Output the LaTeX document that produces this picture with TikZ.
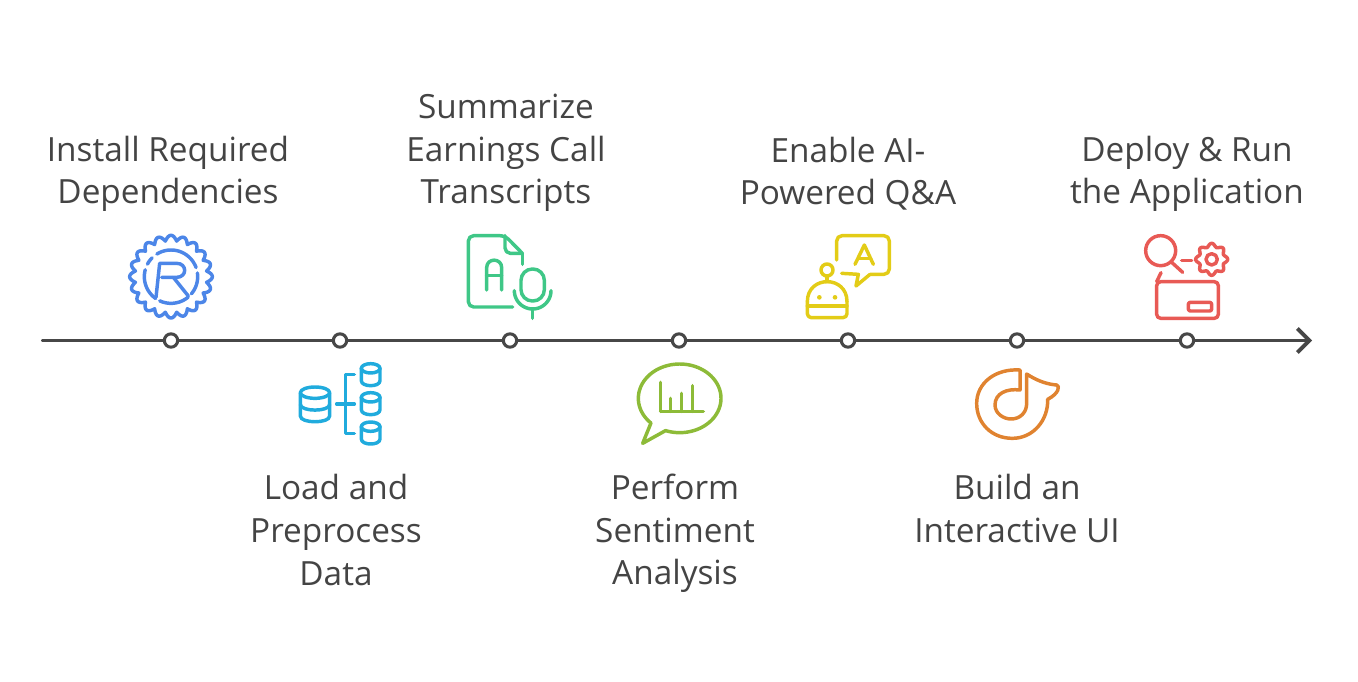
\documentclass[tikz,border=0pt]{standalone}
\usepackage{fontspec}
\setmainfont{Open Sans}
\usetikzlibrary{arrows.meta}
\definecolor{axisgray}{HTML}{474747}
\definecolor{textgray}{HTML}{444444}
\definecolor{iconblue}{HTML}{4C86E8}
\definecolor{iconcyan}{HTML}{20ABDD}
\definecolor{icongreen}{HTML}{3FC787}
\definecolor{iconlime}{HTML}{8DBB38}
\definecolor{iconyellow}{HTML}{E3CC17}
\definecolor{iconorange}{HTML}{E08330}
\definecolor{iconred}{HTML}{E85A55}
\tikzset{
  steptext/.style={text=textgray, align=center, font=\fontsize{25pt}{31.9pt}\selectfont},
  stepdot/.style={draw=axisgray, circle, fill=white, line width=2.3pt, inner sep=0pt, minimum size=10pt},
  iconline/.style={line width=2.6pt, line cap=round, line join=round},
  zoomed/.style={x=0.25pt, y=-0.25pt},
}
\begin{document}
\begin{tikzpicture}[x=0.75pt, y=-0.75pt]
    \useasboundingbox (0, 0) rectangle (1358, 681);

    % Draw the axis
    \coordinate (axisstart) at (43, 340.5);
    \coordinate (axisend) at (1312, 340.5);
    \draw[axisgray, line width=2.9pt, line cap=round, -{Straight Barb[length=9pt, width=18pt, line width=2.9pt]}] (axisstart) -- (axisend);

    % Draw the dots
    \node[stepdot] (dot1) at (171, 340.5) {};
    \node[stepdot] (dot2) at (340, 340.5) {};
    \node[stepdot] (dot3) at (510, 340.5) {};
    \node[stepdot] (dot4) at (679, 340.5) {};
    \node[stepdot] (dot5) at (848, 340.5) {};
    \node[stepdot] (dot6) at (1017, 340.5) {};
    \node[stepdot] (dot7) at (1187, 340.5) {};

    % Draw the labels
    \node[steptext] (install) at (168, 174) {Install Required\\Dependencies};
    \node[steptext] (load) at (336, 530) {Load and\\Preprocess\\Data};
    \node[steptext] (summarize) at (506, 153) {Summarize\\Earnings Call\\Transcripts};
    \node[steptext] (perform) at (675, 533.5) {Perform\\Sentiment\\Analysis};
    \node[steptext] (enable) at (848, 173.5) {Enable AI-\\Powered Q\&A};
    \node[steptext] (build) at (1017, 508.5) {Build an\\Interactive UI};
    \node[steptext] (deploy) at (1187, 174) {Deploy \& Run\\the Application};

    % Draw the gear icon
    \begin{scope}[shift={(110, 220)}, zoomed, iconline, draw=iconblue]
    \draw plot[domain=0:360, samples=361, smooth] ({183+(108+16*abs(cos(10*\x)))*cos(\x)}, {170+(108+16*abs(cos(10*\x)))*sin(\x)});
    \draw plot[domain=-122:-20, samples=30, smooth] ({183+80*cos(\x)}, {170+80*sin(\x)});
    \draw plot[domain=-8:40, samples=20, smooth] ({183+80*cos(\x)}, {170+80*sin(\x)});
    \draw plot[domain=50:115, samples=20, smooth] ({183+80*cos(\x)}, {170+80*sin(\x)});
    \draw plot[domain=125:195, samples=20, smooth] ({183+80*cos(\x)}, {170+80*sin(\x)});
    \draw plot[domain=208:225, samples=8, smooth] ({183+80*cos(\x)}, {170+80*sin(\x)});
    \draw (138, 232) -- (149, 130) -- (200, 130) .. controls (232, 130) and (232, 172) .. (200, 172) -- (155, 172);
    \draw (190, 172) -- (235, 228);
    \end{scope}

    % Draw the database icon
    \begin{scope}[shift={(110, 220)}, zoomed, iconline, draw=iconcyan]
    \draw (615, 518) ellipse (44 and 17);
    \draw (571, 518) -- (571, 588) .. controls (571, 611) and (659, 611) .. (659, 588) -- (659, 518);
    \draw (571, 553) .. controls (571, 576) and (659, 576) .. (659, 553);
    \draw (782, 445) ellipse (28 and 14);
    \draw (754, 445) -- (754, 482) .. controls (754, 502) and (810, 502) .. (810, 482) -- (810, 445);
    \draw (782, 532) ellipse (28 and 14);
    \draw (754, 532) -- (754, 569) .. controls (754, 589) and (810, 589) .. (810, 569) -- (810, 532);
    \draw (782, 620) ellipse (28 and 14);
    \draw (754, 620) -- (754, 657) .. controls (754, 677) and (810, 677) .. (810, 657) -- (810, 620);
    \draw (733, 463) -- (707, 463) -- (707, 640) -- (733, 640);
    \draw (680, 552) -- (733, 552);
    \end{scope}

    % Draw the transcript icon
    \begin{scope}[shift={(450, 220)}, zoomed, iconline, draw=icongreen]
    \draw[rounded corners=4pt] (188, 261) -- (55, 261) -- (55, 47) -- (165, 47) -- (217, 100);
    \draw (217, 100) -- (217, 133);
    \draw[rounded corners=4pt] (165, 47) -- (165, 100) -- (217, 100);
    \draw (110, 210) -- (110, 143) .. controls (110, 113) and (155, 113) .. (155, 143) -- (155, 210);
    \draw (110, 167) -- (155, 167);
    \draw[rounded corners=8.5pt] (213, 147) rectangle (283, 243);
    \draw plot[domain=0:180, samples=30, smooth] ({248+55*cos(\x)}, {212+55*sin(\x)});
    \draw (248, 267) -- (248, 295);
    \end{scope}

    % Draw the sentiment icon
    \begin{scope}[shift={(450, 220)}, zoomed, iconline, draw=iconlime]
    \draw plot[domain=134:470, samples=90, smooth] ({689+124*cos(\x)}, {535+103*sin(\x)}) -- (578, 670) -- cycle;
    \draw (632, 574) -- (760, 574);
    \draw (632, 487) -- (632, 574);
    \draw (662, 535) -- (662, 574);
    \draw (695, 520) -- (695, 574);
    \draw (727, 497) -- (727, 574);
    \end{scope}

    % Draw the robot icon
    \begin{scope}[shift={(790, 220)}, zoomed, iconline, draw=iconyellow]
    \draw[rounded corners=4pt] (140, 120) -- (140, 47) -- (298, 47) -- (298, 163) -- (240, 163);
    \draw (240, 163) -- (198, 198) -- (205, 163) -- (155, 160);
    \draw (195, 133) -- (223, 75) -- (250, 133);
    \draw (205, 115) -- (242, 115);
    \draw (111, 150) circle (18);
    \draw (111, 168) -- (111, 185);
    \draw[rounded corners=3pt] (52, 245) -- (52, 293) -- (171, 293) -- (171, 245);
    \draw (52, 245) .. controls (52, 165) and (171, 165) .. (171, 245);
    \draw (52, 258) -- (171, 258);
    \fill[iconyellow] (88, 232) circle (7);
    \fill[iconyellow] (135, 232) circle (7);
    \end{scope}

    % Draw the note icon
    \begin{scope}[shift={(790, 220)}, zoomed, iconline, draw=iconorange]
    \draw (690, 450) -- (690, 510) .. controls (650, 505) and (615, 520) .. (615, 555) .. controls (615, 580) and (640, 597) .. (663, 597) .. controls (690, 597) and (710, 578) .. (710, 550) -- (710, 462) .. controls (745, 485) and (775, 493) .. (800, 495) .. controls (810, 497) and (808, 520) .. (773, 538) .. controls (775, 600) and (730, 655) .. (667, 655) .. controls (605, 655) and (560, 610) .. (560, 550) .. controls (560, 490) and (615, 445) .. (690, 450) -- cycle;
    \end{scope}

    % Draw the deploy icon
    \begin{scope}[shift={(1130, 220)}, zoomed, iconline, draw=iconred]
    \draw (92, 92) circle (45);
    \draw (125, 127) -- (158, 157);
    \draw (155, 122) -- (185, 122);
    \draw plot[domain=0:360, samples=121, smooth] ({245+(43+5*cos(8*\x))*cos(\x)}, {118+(43+5*cos(8*\x))*sin(\x)});
    \draw (245, 118) circle (17);
    \draw (93, 158) -- (80, 185);
    \draw[rounded corners=3pt] (80, 185) -- (80, 295) -- (265, 295) -- (265, 185) -- cycle;
    \draw[rounded corners=1.5pt] (175, 247) rectangle (245, 273);
    \end{scope}

\end{tikzpicture}
\end{document}
